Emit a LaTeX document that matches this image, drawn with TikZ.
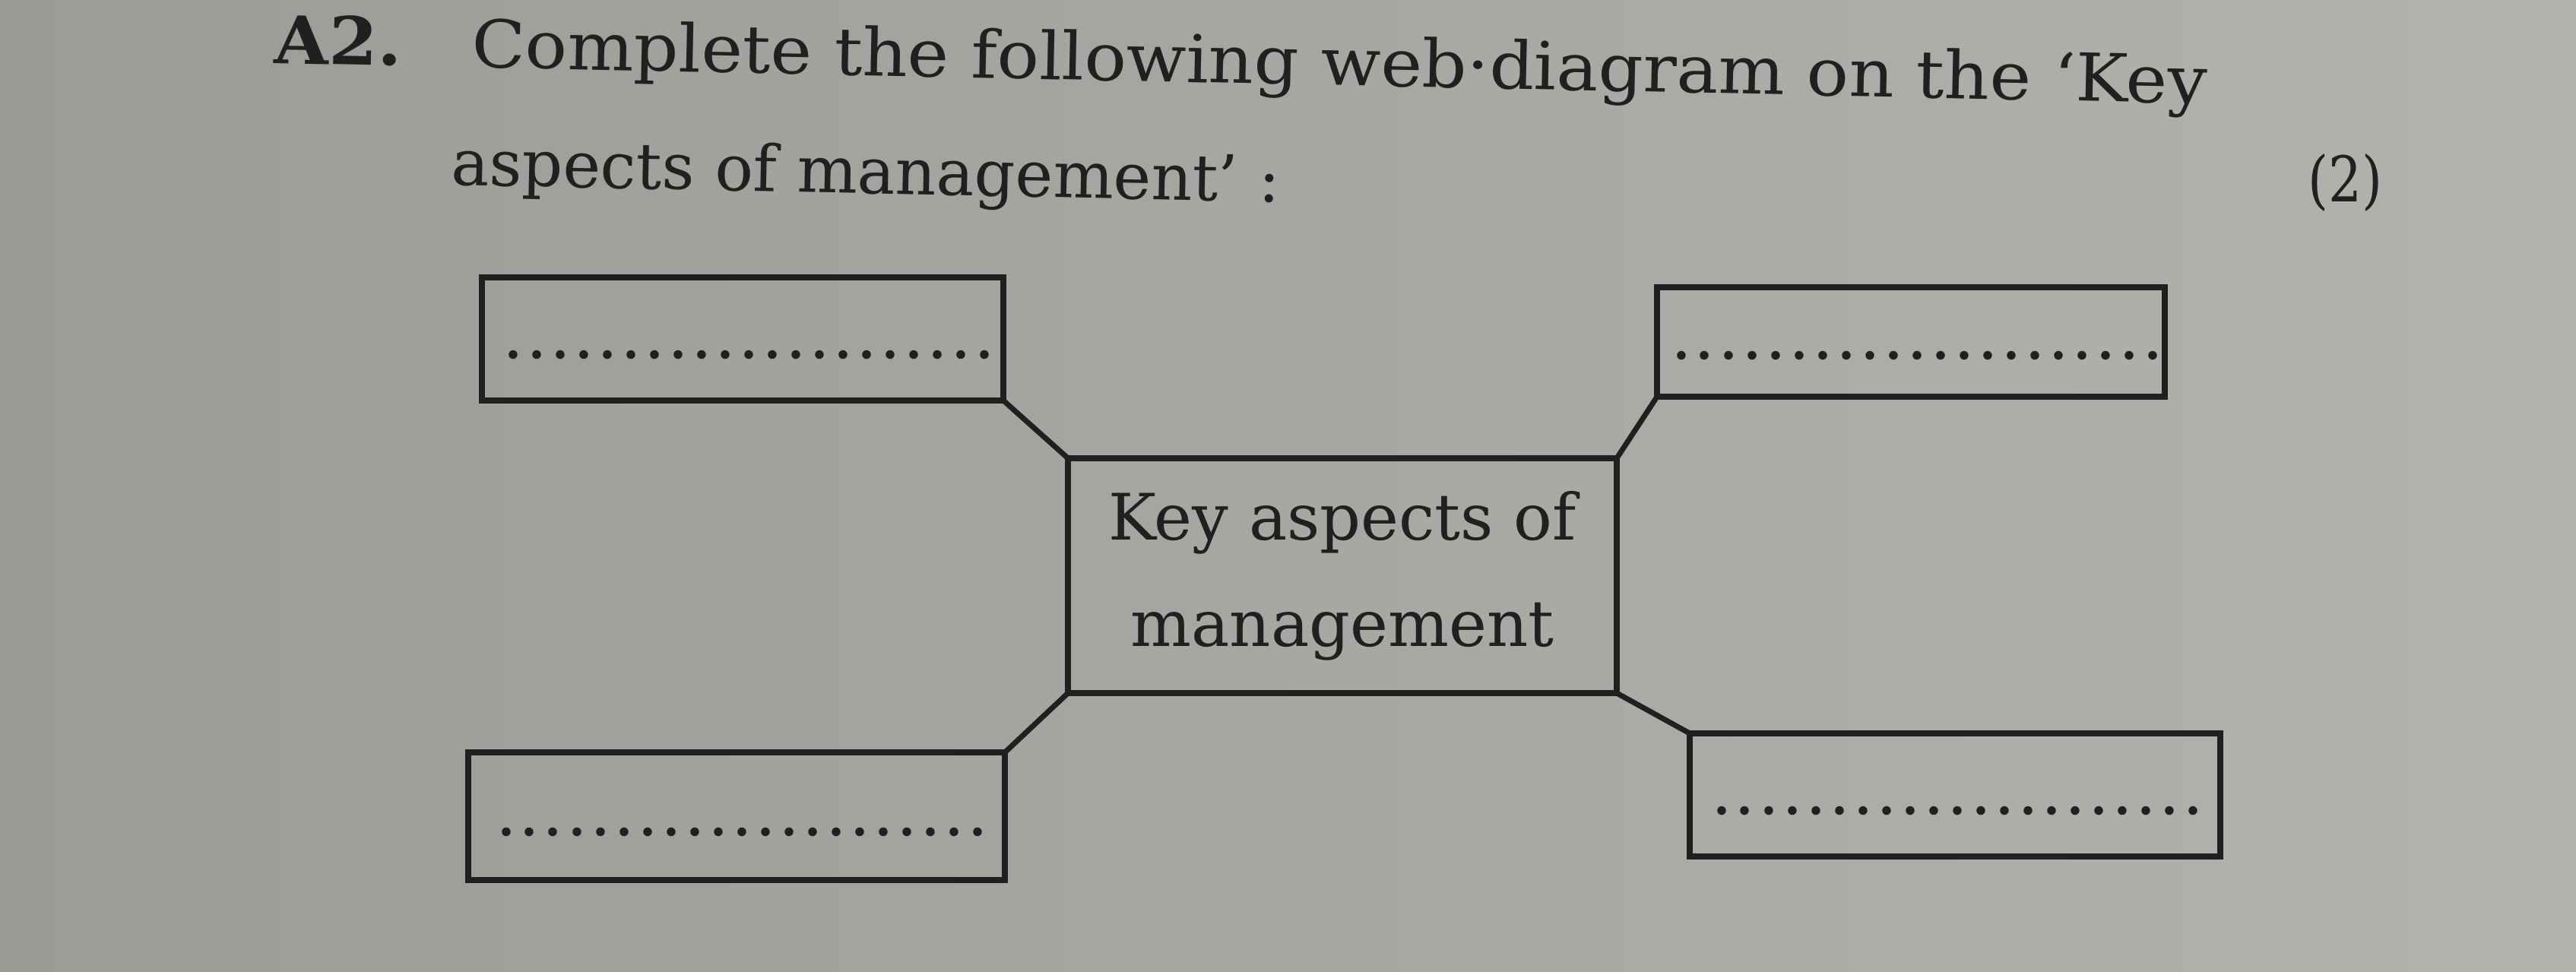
\documentclass[tikz,border=0pt]{standalone}
\usepackage{fontspec}
\setmainfont{DejaVu Serif}
\usepackage{graphicx}
\definecolor{ink}{RGB}{32,32,32}
\definecolor{paperL}{RGB}{155,155,152}
\definecolor{paperR}{RGB}{179,178,174}
\newcommand{\dotrow}{\hbox{\cleaders\hbox to 0.31cm{\hss.\hss}\hskip 6.6cm}}
\begin{document}
\begin{tikzpicture}[
  box/.style={draw=ink, line width=2.2pt, inner sep=0pt, outer sep=0pt},
  link/.style={draw=ink, line width=2pt},
  dotline/.style={text=ink, inner sep=0pt, anchor=base, font=\fontsize{25}{28}\selectfont},
  txt/.style={text=ink, inner sep=0pt}
]
\fill[left color=paperL, right color=paperR] (0,0) rectangle (33.89,12.78);
\path[use as bounding box] (0,0) rectangle (33.89,12.78);

% heading
\node[txt, anchor=base west, rotate=-1.2] (title) at (3.60,11.95)
  {\resizebox{25.43cm}{0.66cm}{\bfseries A2.\quad\mdseries Complete the following web·diagram on the ‘Key}};
\node[txt, anchor=base west, rotate=-1.2] (line2) at (5.93,10.35)
  {\resizebox{10.9cm}{0.64cm}{aspects of management’ :}};
\node[txt] (marks) at (30.85,10.38) {\resizebox{0.98cm}{0.63cm}{(2)}};

% boxes
\node[box, minimum width=6.86cm, minimum height=1.62cm] (tl) at (9.77,8.32) {};
\node[box, minimum width=6.68cm, minimum height=1.44cm] (tr) at (25.14,8.28) {};
\node[box, minimum width=7.06cm, minimum height=1.68cm] (bl) at (9.69,2.04) {};
\node[box, minimum width=6.98cm, minimum height=1.62cm] (br) at (25.72,2.32) {};
\node[box, minimum width=7.22cm, minimum height=3.09cm, align=center, text=ink,
      font=\fontsize{24}{39.8}\selectfont] (c) at (17.66,5.205) {Key aspects of\\management};

% dotted answer lines
\node[dotline] (dtl) at (9.855,8.06) {\dotrow};
\node[dotline] (dtr) at (25.22,8.05) {\dotrow};
\node[dotline] (dbl) at (9.76,1.79) {\dotrow};
\node[dotline] (dbr) at (25.75,2.07) {\dotrow};

% connectors
\draw[link] (tl.south east) -- (c.north west);
\draw[link] (tr.south west) -- (c.north east);
\draw[link] (bl.north east) -- (c.south west);
\draw[link] (br.north west) -- (c.south east);
\end{tikzpicture}
\end{document}
